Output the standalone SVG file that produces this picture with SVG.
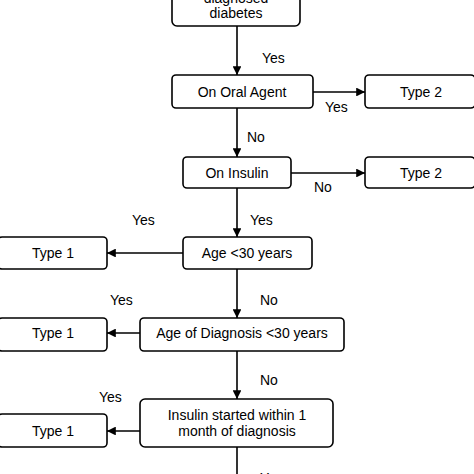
<svg xmlns="http://www.w3.org/2000/svg" width="474" height="474" viewBox="0 0 474 474">
<style>
.box{fill:#fff;stroke:#000;stroke-width:1.6}
.t{font-family:"Liberation Sans",Arial,sans-serif;font-size:14px;fill:#000}
.m{text-anchor:middle}
.c{stroke:#000;stroke-width:1.6;fill:none}
</style>
<defs>
<marker id="ah" viewBox="0 0 10 10" refX="10" refY="5" markerWidth="5.5" markerHeight="5.5" orient="auto" markerUnits="strokeWidth">
<path d="M0,0 L10,5 L0,10 z" fill="#000"/>
</marker>
</defs>
<g id="connectors">
<line class="c" x1="237" y1="26" x2="237" y2="75" marker-end="url(#ah)"/>
<line class="c" x1="313" y1="92" x2="365" y2="92" marker-end="url(#ah)"/>
<line class="c" x1="237" y1="108" x2="237" y2="157" marker-end="url(#ah)"/>
<line class="c" x1="291" y1="173" x2="365" y2="173" marker-end="url(#ah)"/>
<line class="c" x1="237" y1="188" x2="237" y2="237" marker-end="url(#ah)"/>
<line class="c" x1="183" y1="253" x2="107" y2="253" marker-end="url(#ah)"/>
<line class="c" x1="237" y1="269" x2="237" y2="318" marker-end="url(#ah)"/>
<line class="c" x1="140" y1="333" x2="107" y2="333" marker-end="url(#ah)"/>
<line class="c" x1="237" y1="351" x2="237" y2="399" marker-end="url(#ah)"/>
<line class="c" x1="140" y1="431" x2="107" y2="431" marker-end="url(#ah)"/>
<line class="c" x1="237" y1="447" x2="237" y2="480"/>
<text class="t" x="262" y="63">Yes</text>
<text class="t" x="325" y="112">Yes</text>
<text class="t" x="247" y="142">No</text>
<text class="t" x="314" y="192">No</text>
<text class="t" x="250" y="225">Yes</text>
<text class="t" x="132" y="225">Yes</text>
<text class="t" x="260" y="305">No</text>
<text class="t" x="110" y="305">Yes</text>
<text class="t" x="260" y="385">No</text>
<text class="t" x="99" y="402">Yes</text>
<text class="t" x="260" y="483">Yes</text>
</g>
<g id="start">
<rect class="box" x="172" y="-20" width="128" height="46" rx="5"/>
<text class="t m" x="236" y="3">diagnosed</text>
<text class="t m" x="236" y="18">diabetes</text>
</g>
<g id="oral">
<rect class="box" x="172" y="75" width="141" height="33" rx="4"/>
<text class="t m" x="242" y="97">On Oral Agent</text>
</g>
<g id="type2a">
<rect class="box" x="365" y="75" width="110" height="33" rx="4"/>
<text class="t m" x="421" y="97">Type 2</text>
</g>
<g id="insulin">
<rect class="box" x="183" y="157" width="108" height="31" rx="4"/>
<text class="t m" x="237" y="178">On Insulin</text>
</g>
<g id="type2b">
<rect class="box" x="365" y="157" width="110" height="31" rx="4"/>
<text class="t m" x="421" y="178">Type 2</text>
</g>
<g id="age">
<rect class="box" x="183" y="237" width="129" height="32" rx="4"/>
<text class="t m" x="247" y="258">Age &lt;30 years</text>
</g>
<g id="type1a">
<rect class="box" x="-2" y="237" width="109" height="32" rx="4"/>
<text class="t m" x="53" y="258">Type 1</text>
</g>
<g id="agediag">
<rect class="box" x="140" y="318" width="204" height="33" rx="4"/>
<text class="t m" x="242" y="338">Age of Diagnosis &lt;30 years</text>
</g>
<g id="type1b">
<rect class="box" x="-2" y="318" width="109" height="33" rx="4"/>
<text class="t m" x="53" y="338">Type 1</text>
</g>
<g id="started">
<rect class="box" x="140" y="399" width="193" height="48" rx="5"/>
<text class="t m" x="237" y="420">Insulin started within 1</text>
<text class="t m" x="237" y="436">month of diagnosis</text>
</g>
<g id="type1c">
<rect class="box" x="-2" y="414" width="109" height="33" rx="4"/>
<text class="t m" x="53" y="436">Type 1</text>
</g>
</svg>
